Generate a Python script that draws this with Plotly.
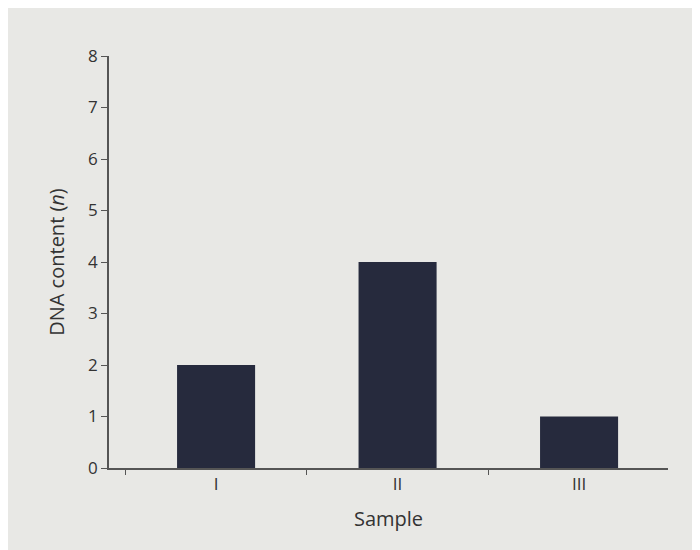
import plotly.graph_objects as go

samples = ["I", "II", "III"]
dna_content = [2, 4, 1]
y_ticks = [0, 1, 2, 3, 4, 5, 6, 7, 8]

fig = go.Figure()
fig.add_trace(go.Bar(x=samples, y=dna_content, width=0.43,
                     marker=dict(color="#262a3d", line=dict(width=0))))

fig.update_layout(width=700, height=550, showlegend=False,
                  paper_bgcolor="#e8e8e5", plot_bgcolor="#e8e8e5",
                  font=dict(family="Open Sans", color="#333333", size=17),
                  margin=dict(l=101, r=40, t=48, b=90))
fig.update_xaxes(range=[-0.59, 2.49], showline=True, linecolor="#555555", linewidth=1.5,
                 ticks="outside", tickson="boundaries", ticklen=5, tickcolor="#555555",
                 title=dict(text="Sample", standoff=18), showgrid=False)
fig.update_yaxes(range=[0, 8], tickvals=y_ticks, showline=True, linecolor="#555555",
                 linewidth=1.5, ticks="outside", ticklen=6, tickcolor="#555555",
                 title=dict(text="DNA content (<i>n</i>)", standoff=18),
                 showgrid=False, zeroline=False)

fig.write_html("out.html")
